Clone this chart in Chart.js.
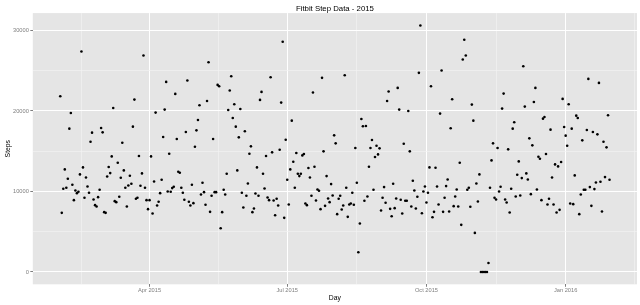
<!DOCTYPE html>
<html>
<head>
<meta charset="utf-8">
<script src="https://cdn.jsdelivr.net/npm/chart.js@4.4.1/dist/chart.umd.min.js"></script>
<style>
html, body { margin: 0; padding: 0; background: #ffffff; }
canvas { display: block; }
</style>
</head>
<body>
<canvas id="c" width="640" height="305"></canvas>
<script>
// Day index within 2015 (0 = 1 Jan 2015) of the first record: 1 Feb 2015, one record per day
const FIRST_DAY = 31;

// Daily step counts
const steps = [
  21829, 7346, 10334, 12741, 10458, 11579, 17804, 19754, 10832, 8923, 10126, 9794, 9960, 12118, 27390, 12990,
  9213, 11745, 10624, 9836, 16185, 17306, 9006, 8300, 8134, 9296, 10209, 17887, 17347, 7429, 7346, 11869,
  13031, 12284, 14359, 20377, 8798, 8674, 13571, 9338, 11703, 16061, 12616, 10458, 8134, 10749,
  11952, 10956, 18053, 21414, 9089, 9213, 14401, 10707, 12243, 26892, 10458, 8923, 7802, 8923, 14359, 7263,
  11247, 19796, 8259, 8715, 9794, 11454, 16766, 20169, 23614, 10002, 14691, 9960, 10417, 10583, 22120, 16517,
  12450, 12326, 10458, 9836, 8964, 17389, 23780, 8715, 8259, 10832, 8549, 15563, 17596, 18883,
  20709, 9628, 11081, 9919, 8342, 21248, 26062, 7470, 9462, 16517, 9919, 9919, 23240, 23074, 5437, 7429,
  10209, 9628, 12201, 20128, 22535, 24319, 19132, 20833, 18053, 12616, 16725, 20252, 9836, 8010, 17472, 9462,
  10998, 14691, 15604, 7429, 7885, 9753, 12990, 9462, 21373, 22369, 12201, 10375, 14401, 9255, 8923,
  24195, 14857, 8881, 7055, 9089, 8259, 15189, 21041, 28594, 6723, 16434, 11454, 8383, 12741, 18800, 13695,
  10458, 14774, 12201, 11911, 12201, 14484, 14650, 8508, 8300, 12907, 11745, 9462, 22286, 13073, 8881, 10251,
  10085, 7802, 24112, 14982, 8217, 11911, 9130, 8674, 10915, 9504, 16974, 15978, 7180, 9089,
  9462, 7761, 8259, 24444, 10458, 6848, 8383, 8508, 9836, 8342, 15397, 11081, 2449, 6018, 19007, 18094,
  8840, 18136, 9379, 13073, 15397, 16393, 10209, 14276, 15687, 14608, 15355, 7636, 9213, 10541, 8591, 21248,
  22410, 7844, 6931, 10956, 7927, 9130, 22867, 20169, 8964, 7263, 15936, 8840, 8840, 20003, 14982,
  8134, 11330, 10126, 7885, 9338, 24734, 30627, 7304, 10002, 10624, 8632, 9836, 12990, 23074, 6806, 7470,
  12948, 10624, 8383, 19671, 25025, 7470, 9213, 10666, 11496, 7512, 17845, 21456, 8176, 9379, 10251, 8134,
  13571, 5852, 26394, 28843, 26892, 10209, 10458, 8093, 20792, 18800, 4856, 10998, 8757, 12118,
  0, 0, 0, 0, 0, 1120,
  10458, 13861, 15978, 9213, 9006, 15397, 10002, 10583, 20294, 22161, 9006, 8632, 15231, 7387, 10334, 17804,
  18592, 9379, 12077, 13737, 9504, 11662, 25564, 20543, 12243, 11496, 16600, 9670, 15729, 21124, 22867, 10251,
  14318, 14069, 8923, 19049, 19256, 14650, 8383, 9089,
  17679, 11745, 8383, 13363, 7387, 13114, 7719, 13654, 21497, 18011, 16932, 15687, 20833, 8508, 17804, 8425,
  11994, 19422, 19132, 7180, 9628, 16351, 10209, 10209, 17638, 23987, 10541, 8217, 17389, 10292, 11122, 17098,
  23489, 11205, 7512, 16185, 11786, 15480, 19464, 11454
];

// Axis breaks (x in days since 1 Jan 2015)
const xMajorDays = [90, 181, 273, 365];
const xMajorLabels = ['Apr 2015', 'Jul 2015', 'Oct 2015', 'Jan 2016'];
const xMinorDays = [45, 135.5, 227, 319, 410.5];
const yMajor = [0, 10000, 20000, 30000];
const yMinor = [5000, 15000, 25000];

const titleText = 'Fitbit Step Data - 2015';
const xTitleText = 'Day';
const yTitleText = 'Steps';

const FONT = '"Liberation Sans", Arial, Helvetica, sans-serif';

const points = steps.map((v, i) => ({ x: FIRST_DAY + i, y: v }));

// ggplot-style 5% expansion of the data range
const xLo = FIRST_DAY, xHi = FIRST_DAY + steps.length - 1;
const yLo = Math.min(...steps), yHi = Math.max(...steps);
const xPad = (xHi - xLo) * 0.05, yPad = (yHi - yLo) * 0.05;

const isMajorX = v => xMajorDays.includes(v);
const isMajorY = v => yMajor.includes(v);

const panelBg = {
  id: 'panelBg',
  beforeDraw(chart) {
    const { ctx, chartArea: a } = chart;
    ctx.save();
    ctx.fillStyle = '#E5E5E5';
    ctx.fillRect(a.left, a.top, a.right - a.left, a.bottom - a.top);
    ctx.restore();
  }
};

const titles = {
  id: 'titles',
  afterDraw(chart) {
    const { ctx, chartArea: a } = chart;
    const cx = (a.left + a.right) / 2;
    const cy = (a.top + a.bottom) / 2;
    ctx.save();
    ctx.fillStyle = '#000000';
    ctx.textAlign = 'center';
    ctx.textBaseline = 'alphabetic';
    ctx.font = '7.8px ' + FONT;
    ctx.fillText(titleText, cx, 10.5);
    ctx.font = '6.8px ' + FONT;
    ctx.fillText(xTitleText, cx, 299.5);
    ctx.translate(10.3, cy);
    ctx.rotate(-Math.PI / 2);
    ctx.fillText(yTitleText, 0, 0);
    ctx.restore();
  }
};

new Chart(document.getElementById('c'), {
  type: 'scatter',
  data: {
    datasets: [{
      data: points,
      pointRadius: 1.3,
      pointHoverRadius: 1.3,
      pointBackgroundColor: '#000000',
      pointBorderWidth: 0,
      showLine: false
    }]
  },
  options: {
    responsive: false,
    animation: false,
    devicePixelRatio: 1,
    events: [],
    layout: { padding: { left: 0, right: 3, top: 13.1, bottom: 0 } },
    plugins: { legend: { display: false }, tooltip: { enabled: false }, title: { display: false } },
    scales: {
      x: {
        type: 'linear',
        min: xLo - xPad,
        max: xHi + xPad,
        afterBuildTicks: s => {
          s.ticks = xMinorDays.concat(xMajorDays).sort((a, b) => a - b).map(v => ({ value: v }));
        },
        afterFit: s => { s.height = 20.7; },
        border: { display: false },
        grid: {
          drawTicks: true,
          tickLength: 2.5,
          color: c => (c.tick && isMajorX(c.tick.value)) ? '#FFFFFF' : '#F2F2F2',
          lineWidth: c => (c.tick && isMajorX(c.tick.value)) ? 1 : 0.7,
          tickColor: c => (c.tick && isMajorX(c.tick.value)) ? '#7F7F7F' : 'rgba(0,0,0,0)',
          tickWidth: 1
        },
        ticks: {
          autoSkip: false,
          maxRotation: 0,
          minRotation: 0,
          padding: 0,
          color: '#7F7F7F',
          font: { family: FONT, size: 5.7 },
          callback: v => { const i = xMajorDays.indexOf(v); return i >= 0 ? xMajorLabels[i] : ''; }
        }
      },
      y: {
        type: 'linear',
        min: yLo - yPad,
        max: yHi + yPad,
        afterBuildTicks: s => {
          s.ticks = yMinor.concat(yMajor).sort((a, b) => a - b).map(v => ({ value: v }));
        },
        afterFit: s => { s.width = 32.8; },
        border: { display: false },
        grid: {
          drawTicks: true,
          tickLength: 2.5,
          color: c => (c.tick && isMajorY(c.tick.value)) ? '#FFFFFF' : '#F2F2F2',
          lineWidth: c => (c.tick && isMajorY(c.tick.value)) ? 1 : 0.7,
          tickColor: c => (c.tick && isMajorY(c.tick.value)) ? '#7F7F7F' : 'rgba(0,0,0,0)',
          tickWidth: 1
        },
        ticks: {
          autoSkip: false,
          padding: 1.5,
          color: '#7F7F7F',
          font: { family: FONT, size: 5.7 },
          callback: v => isMajorY(v) ? String(v) : ''
        }
      }
    }
  },
  plugins: [panelBg, titles]
});
</script>
</body>
</html>
